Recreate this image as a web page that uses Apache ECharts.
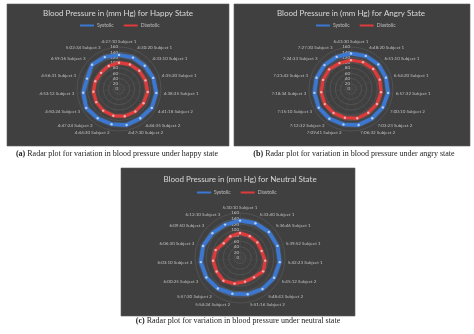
<!DOCTYPE html>
<html>
<head>
<meta charset="utf-8">
<script src="https://cdn.jsdelivr.net/npm/echarts@6/dist/echarts.min.js"></script>
<style>
html,body{margin:0;padding:0;background:#fff;}
#chart{width:474px;height:334px;}
</style>
</head>
<body>
<div id="chart"></div>
<script>
// ---- Data ----
const seriesNames = ['Systolic', 'Diastolic'];
const bpMin = 0;
const bpMax = 160;
const bpStep = 20;

const happyCats = ['4:27:10 Subject 1','4:30:20 Subject 1','4:33:10 Subject 1','4:35:20 Subject 1','4:38:35 Subject 1',
  '4:41:18 Subject 2','4:44:35 Subject 2','4:47:30 Subject 2','4:44:30 Subject 2','4:47:24 Subject 2',
  '4:50:24 Subject 3','4:53:12 Subject 3','4:56:31 Subject 3','4:59:16 Subject 3','5:02:34 Subject 3'];
const happySys = [130, 131, 132, 137, 143, 144, 138, 140, 137, 138, 144, 137, 128, 138, 133];
const happyDia = [100, 102, 104, 106, 110, 108, 106, 106, 104, 102, 100, 98, 95, 92, 96];

const angryCats = ['6:43:30 Subject 1','6:48:20 Subject 1','6:51:10 Subject 1','6:54:20 Subject 1','6:57:32 Subject 1',
  '7:00:10 Subject 2','7:03:23 Subject 2','7:06:32 Subject 2','7:09:41 Subject 2','7:12:32 Subject 2',
  '7:15:10 Subject 3','7:18:34 Subject 3','7:21:42 Subject 3','7:24:33 Subject 3','7:27:30 Subject 3'];
const angrySys = [135, 138, 140, 140, 142, 140, 138, 140, 138, 140, 142, 140, 138, 136, 134];
const angryDia = [110, 112, 114, 115, 115, 114, 112, 114, 112, 113, 115, 114, 112, 112, 108];

const neutralCats = ['5:30:10 Subject 1','5:33:40 Subject 1','5:36:46 Subject 1','5:39:52 Subject 1','5:42:23 Subject 1',
  '5:45:12 Subject 2','5:48:43 Subject 2','5:51:16 Subject 2','5:54:24 Subject 2','5:57:20 Subject 2',
  '6:00:25 Subject 3','6:03:10 Subject 3','6:06:30 Subject 3','6:09:50 Subject 3','6:12:10 Subject 3'];
const neutralSys = [133, 135, 138, 140, 142, 140, 136, 132, 130, 134, 138, 140, 138, 132, 130];
const neutralDia = [89, 85, 83, 81, 90, 95, 85, 86, 93, 100, 96, 96, 91, 78, 84];

const chartTitles = ['Blood Pressure in (mm Hg) for Happy State',
  'Blood Pressure in (mm Hg) for Angry State',
  'Blood Pressure in (mm Hg) for Neutral State'];
const captionTags = ['(a)', '(b)', '(c)'];
const captionTexts = [' Radar plot for variation in blood pressure under happy state',
  ' Radar plot for variation in blood pressure under angry state',
  ' Radar plot for variation in blood pressure under neutral state'];

// ---- Layout / styles ----
const panels = [
  {x: 7, y: 4, w: 222, h: 142, cx: 119, cy: 89, r: 42, titleX: 118, titleY: 9, legX: 80, legY: 23, capX: 117, capY: 150},
  {x: 234, y: 4, w: 236, h: 142, cx: 351, cy: 89, r: 42, titleX: 351, titleY: 9, legX: 316, legY: 23, capX: 354, capY: 150},
  {x: 121, y: 168, w: 234, h: 148, cx: 240, cy: 258, r: 45, titleX: 240, titleY: 175, legX: 197, legY: 190, capX: 238, capY: 317}
];
const cats = [happyCats, angryCats, neutralCats];
const sys = [happySys, angrySys, neutralSys];
const dia = [happyDia, angryDia, neutralDia];

// ECharts radar runs counter-clockwise; reorder so categories run clockwise from the top (as in the original).
const clockwise = arr => [arr[0]].concat(arr.slice(1).reverse());

const BLUE = '#3b78d4';
const RED = '#e03a3a';
const TXT = '#bfbfbf';
const FONT = 'Lato, "Open Sans", sans-serif';

const chart = echarts.init(document.getElementById('chart'), null, {renderer: 'canvas'});

const option = {
  backgroundColor: '#ffffff',
  animation: false,
  graphic: panels.map(p => ({
    type: 'rect', z: -10, silent: true,
    shape: {x: p.x, y: p.y, width: p.w, height: p.h},
    style: {fill: '#404040', stroke: '#5a5a5a', lineWidth: 0.6}
  })),
  title: [
    ...panels.map((p, i) => ({
      text: chartTitles[i], left: p.titleX, top: p.titleY, textAlign: 'center', padding: 0,
      textStyle: {color: '#d9d9d9', fontSize: 8, fontWeight: 'normal', fontFamily: FONT}
    })),
    ...panels.map((p, i) => ({
      text: '{b|' + captionTags[i] + '}' + captionTexts[i], left: p.capX, top: p.capY, textAlign: 'center', padding: 0,
      textStyle: {color: '#222', fontSize: 8, fontWeight: 'normal', fontFamily: '"Liberation Serif", "DejaVu Serif", serif',
        rich: {b: {fontWeight: 'bold', fontSize: 8, color: '#222', fontFamily: '"Liberation Serif", serif'}}}
    }))
  ],
  legend: panels.map(p => ({
    left: p.legX, top: p.legY, itemWidth: 14, itemHeight: 2, itemGap: 10, padding: 0,
    icon: 'rect',
    textStyle: {color: TXT, fontSize: 5, fontFamily: FONT, padding: [0, 0, 0, -2]},
    data: [{name: seriesNames[0], itemStyle: {color: BLUE}}, {name: seriesNames[1], itemStyle: {color: RED}}]
  })),
  radar: panels.map((p, i) => ({
    center: [p.cx, p.cy], radius: p.r, startAngle: 90, shape: 'circle',
    splitNumber: (bpMax - bpMin) / bpStep,
    nameGap: 3,
    axisName: {color: TXT, fontSize: 4.5, fontFamily: FONT},
    indicator: clockwise(cats[i]).map((n, k) => k === 0
      ? {name: n, min: bpMin, max: bpMax, axisLabel: {show: true}}
      : {name: n, min: bpMin, max: bpMax}),
    axisLine: {show: true, lineStyle: {color: '#4c4c4c', width: 0.5}},
    axisTick: {show: false},
    axisLabel: {show: false, color: TXT, fontSize: 4.5, fontFamily: FONT, margin: 1},
    splitLine: {lineStyle: {color: '#5e5e5e', width: 0.6}},
    splitArea: {show: false}
  })),
  series: panels.map((p, i) => ({
    type: 'radar', radarIndex: i, symbol: 'circle', symbolSize: 2.4, z: 3,
    data: [
      {name: seriesNames[0], value: clockwise(sys[i]),
        lineStyle: {color: BLUE, width: 3.5, shadowColor: 'rgba(90,150,235,0.7)', shadowBlur: 2},
        itemStyle: {color: '#b4d0f4', borderWidth: 0}},
      {name: seriesNames[1], value: clockwise(dia[i]),
        lineStyle: {color: RED, width: 3, shadowColor: 'rgba(240,90,90,0.6)', shadowBlur: 2},
        itemStyle: {color: '#f7adad', borderWidth: 0}}
    ]
  }))
};
chart.setOption(option);
</script>
</body>
</html>
